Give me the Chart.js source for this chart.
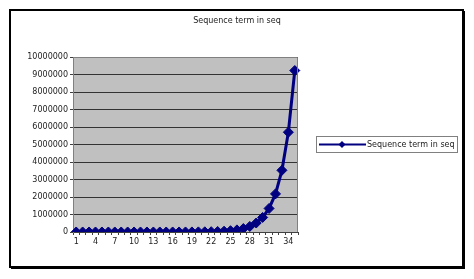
<!DOCTYPE html>
<html>
<head>
<meta charset="utf-8">
<style>
  html, body { margin: 0; padding: 0; background: #fff; }
  canvas { display: block; }
</style>
<script src="https://cdn.jsdelivr.net/npm/chart.js@4"></script>
</head>
<body>
<canvas id="seqChart" width="474" height="279"></canvas>
<script>
const terms = ['1','2','3','4','5','6','7','8','9','10','11','12','13','14','15','16','17','18',
  '19','20','21','22','23','24','25','26','27','28','29','30','31','32','33','34','35'];
const seqValues = [1, 1, 2, 3, 5, 8, 13, 21, 34, 55, 89, 144, 233, 377, 610, 987, 1597, 2584,
  4181, 6765, 10946, 17711, 28657, 46368, 75025, 121393, 196418, 317811, 514229, 832040,
  1346269, 2178309, 3524578, 5702887, 9227465];
const seriesName = 'Sequence term in seq';
const chartTitle = 'Sequence term in seq';

const FONT = '"DejaVu Sans", Verdana, sans-serif';
const navy = '#000080';
const textCol = '#222';

// grey plot area, outer frame, title and legend like the old Excel chart
const excelLook = {
  id: 'excelLook',
  beforeDraw(chart) {
    const { ctx, chartArea: a } = chart;
    ctx.save();
    ctx.fillStyle = '#fff';
    ctx.fillRect(0, 0, chart.width, chart.height);
    ctx.fillStyle = '#c0c0c0';
    ctx.fillRect(a.left, a.top, a.right - a.left, a.bottom - a.top);
    ctx.restore();
  },
  afterDraw(chart) {
    const { ctx, chartArea: a } = chart;
    ctx.save();
    ctx.strokeStyle = '#808080';
    ctx.lineWidth = 1;
    ctx.beginPath();
    ctx.moveTo(a.left + 0.5, a.top + 0.5);
    ctx.lineTo(a.right - 0.5, a.top + 0.5);
    ctx.lineTo(a.right - 0.5, a.bottom);
    ctx.stroke();

    // frame with a bit of shadow
    ctx.strokeStyle = '#000';
    ctx.lineWidth = 2;
    ctx.strokeRect(10, 10, 453, 257);
    ctx.fillStyle = '#000';
    ctx.fillRect(464, 11, 1, 258);
    ctx.fillRect(11, 268, 454, 1);

    ctx.fillStyle = textCol;
    ctx.font = '8px ' + FONT;
    ctx.textAlign = 'center';
    ctx.textBaseline = 'middle';
    ctx.fillText(chartTitle, 237, 21);

    // legend
    const ds = chart.data.datasets[0];
    ctx.strokeStyle = '#808080';
    ctx.lineWidth = 1;
    ctx.strokeRect(316.5, 136.5, 141, 16);
    ctx.strokeStyle = ds.borderColor;
    ctx.lineWidth = 2;
    ctx.beginPath();
    ctx.moveTo(319, 144.5);
    ctx.lineTo(366, 144.5);
    ctx.stroke();
    ctx.fillStyle = ds.borderColor;
    ctx.beginPath();
    ctx.moveTo(342, 141);
    ctx.lineTo(345.5, 144.5);
    ctx.lineTo(342, 148);
    ctx.lineTo(338.5, 144.5);
    ctx.closePath();
    ctx.fill();
    ctx.fillStyle = textCol;
    ctx.textAlign = 'left';
    ctx.fillText(ds.label, 367, 145);
    ctx.restore();
  }
};

new Chart(document.getElementById('seqChart'), {
  type: 'line',
  data: {
    labels: terms,
    datasets: [{
      label: seriesName,
      data: seqValues,
      borderColor: navy,
      backgroundColor: navy,
      borderWidth: 3,
      pointStyle: 'rectRot',
      pointRadius: 5,
      pointBorderWidth: 1,
      pointBackgroundColor: navy,
      pointBorderColor: navy,
      tension: 0
    }]
  },
  options: {
    responsive: false,
    animation: false,
    devicePixelRatio: 1,
    layout: { padding: { left: 10, right: 176, top: 57, bottom: 27 } },
    plugins: {
      legend: { display: false },
      title: { display: false },
      tooltip: { enabled: false }
    },
    scales: {
      x: {
        offset: true,
        afterFit(scale) { scale.height = 20; },
        grid: {
          offset: true,
          drawOnChartArea: false,
          drawTicks: true,
          tickLength: 3,
          tickColor: '#404040'
        },
        border: { color: '#404040', width: 1 },
        ticks: {
          autoSkip: false,
          maxRotation: 0,
          padding: 2,
          color: textCol,
          font: { family: FONT, size: 8 },
          callback(value, index) { return index % 3 === 0 ? terms[index] : ''; }
        }
      },
      y: {
        min: 0,
        max: 10000000,
        afterFit(scale) { scale.width = 63; },
        grid: {
          color: '#333',
          lineWidth: 1,
          drawTicks: true,
          tickLength: 3,
          tickColor: '#404040'
        },
        border: { color: '#808080' },
        ticks: {
          stepSize: 1000000,
          padding: 2,
          color: textCol,
          font: { family: FONT, size: 8 },
          callback(value) { return String(value); }
        }
      }
    }
  },
  plugins: [excelLook]
});
</script>
</body>
</html>
